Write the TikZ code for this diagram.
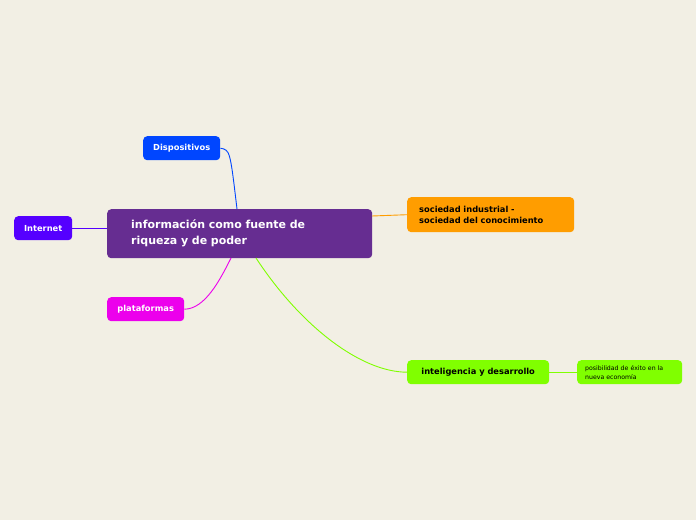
\documentclass[tikz,border=0pt]{standalone}
\usepackage{fontspec}
\setmainfont{DejaVu Sans}
\begin{document}
\begin{tikzpicture}[x=1pt,y=-1pt,
  box/.style={rounded corners=4pt,inner sep=0pt,anchor=north west,font=\bfseries\fontsize{8.3}{10}\selectfont},
  link/.style={line width=0.9pt}]
\useasboundingbox[fill={rgb,255:red,242;green,239;blue,228}] (0,0) rectangle (696,520);
\definecolor{cpur}{RGB}{102,45,145}
\definecolor{cblu}{RGB}{0,70,255}
\definecolor{cint}{RGB}{85,0,255}
\definecolor{cmag}{RGB}{236,0,236}
\definecolor{cora}{RGB}{255,157,0}
\definecolor{cgre}{RGB}{128,255,0}
\node[box,fill=cpur,text=white,minimum width=265pt,minimum height=49pt,align=left,text width=245pt,font=\bfseries\fontsize{11}{16}\selectfont] (c) at (107,209) {\hspace*{14pt}información como fuente de\\\hspace*{14pt}riqueza y de poder};
\node[box,fill=cblu,text=white,minimum width=77pt,minimum height=24pt] (d) at (143,136) {Dispositivos};
\node[box,fill=cint,text=white,minimum width=58pt,minimum height=24pt] (i) at (14,216) {Internet};
\node[box,fill=cmag,text=white,minimum width=77pt,minimum height=24pt] (p) at (107,297) {plataformas};
\node[box,fill=cora,text=black,minimum width=167pt,minimum height=35pt,align=left,text width=155pt,font=\bfseries\fontsize{8.3}{11}\selectfont] (s) at (407,197) {\hspace*{6pt}sociedad industrial -\\\hspace*{6pt}sociedad del conocimiento};
\node[box,fill=cgre,text=black,minimum width=142pt,minimum height=24pt] (g) at (407,360) {inteligencia y desarrollo};
\node[box,fill=cgre,text=black,minimum width=105pt,minimum height=24pt,align=left,text width=99pt,font=\fontsize{6.2}{9}\selectfont] (n) at (577,360) {\hspace*{5pt}posibilidad de éxito en la\\\hspace*{5pt}nueva economía};
\coordinate (c1) at (237,209);
\coordinate (c2) at (231,258);
\coordinate (c3) at (256,258);
\coordinate (c4) at (372,216);
\begin{scope}[on background layer/.try]
\draw[link,cblu] (d.east) .. controls (230,150) .. (c1);
\draw[link,cint] (i.east) -- (c.west |- i.east);
\draw[link,cmag] (p.east) .. controls (205,309) and (220,280) .. (c2);
\draw[link,cora] (c4) -- (s.west);
\draw[link,cgre] (c3) .. controls (300,325) and (360,372) .. (g.west);
\draw[link,cgre] (g.east) -- (n.west);
\end{scope}
\end{tikzpicture}
\end{document}
